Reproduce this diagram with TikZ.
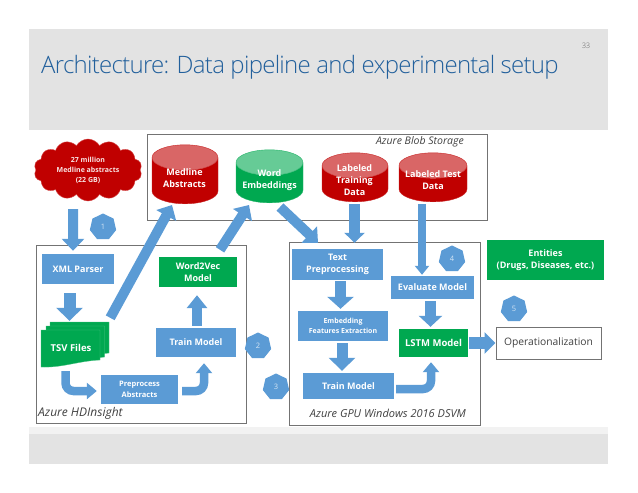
\documentclass[tikz,border=0pt]{standalone}
\usepackage{fontspec}
\setmainfont{Open Sans}
\newfontfamily\lightfont{Open Sans Light}[LetterSpace=-3]
\usetikzlibrary{arrows.meta, shapes.geometric, shapes.symbols}
\definecolor{slidegrey}{HTML}{E3E3E3}
\definecolor{titleblue}{HTML}{22609C}
\definecolor{boxblue}{HTML}{5B9BD5}
\definecolor{boxgreen}{HTML}{00A850}
\definecolor{boxred}{HTML}{C00000}
\definecolor{framegrey}{HTML}{737373}
\newcommand{\storegap}{\phantom{\rule{30pt}{4pt}}}
\tikzset{
  base/.style={inner sep=0pt, align=center, text=white, font=\bfseries\fontsize{9}{12}\selectfont},
  blue box/.style={base, rectangle, fill=boxblue, minimum width=#1},
  green box/.style={base, rectangle, fill=boxgreen, minimum width=#1},
  store/.style={inner sep=0pt, anchor=south, cylinder, shape border rotate=90, aspect=.85, minimum width=66,
    cylinder uses custom fill, cylinder body fill=#1, cylinder end fill=#1!60!white, draw=#1!85!white, line width=.4pt},
  badge/.style={regular polygon, regular polygon sides=7, minimum size=27, inner sep=0pt, fill=boxblue,
    text=white!75!boxblue, font=\fontsize{7.5}{9}\selectfont},
  frame box/.style={draw=framegrey, line width=1pt, fill=white},
  caption/.style={inner sep=0pt, text=black!75, font=\itshape\fontsize{#1}{13}\selectfont},
  fat/.style={draw=boxblue, line width=10pt, -{Triangle[length=12pt,width=22pt]}},
  fat thin/.style={draw=boxblue, line width=8.5pt, -{Triangle[length=10pt,width=16pt]}, rounded corners=8pt},
  sheet/.style={fill=boxgreen, draw=boxgreen!70!white, line width=.3pt}
}
\begin{document}
\begin{tikzpicture}[x=1pt, y=-1pt]
\useasboundingbox (0,0) rectangle (638,493);
% slide bands
\fill[slidegrey] (29,29) rectangle (608,130);
\fill[slidegrey] (29,427) rectangle (608,464);
\fill[black!5] (29,427) rectangle (608,434);
\node[anchor=base west, inner sep=0pt, text=titleblue, font=\lightfont\fontsize{24}{28}\selectfont] (title) at (41,73) {Architecture: Data pipeline and experimental setup};
\node[inner sep=0pt, text=black!65, font=\lightfont\fontsize{7.5}{9}\selectfont] (page) at (586,46) {33};
% group frames
\node[frame box, minimum width=340, minimum height=86] (blob) at (317,177) {};
\node[frame box, minimum width=210, minimum height=178] (hdi) at (141,334) {};
\node[frame box, minimum width=191, minimum height=183] (dsvm) at (384.5,333.5) {};
\node[caption=10.5, anchor=east] (blobcap) at (464,142) {Azure Blob Storage};
\node[caption=12, anchor=west] (hdicap) at (38,413) {Azure HDInsight};
\node[caption=11, anchor=east] (dsvmcap) at (466,413) {Azure GPU Windows 2016 DSVM};
% cloud and stores
\node[base, cloud, cloud puffs=14, cloud puff arc=120, aspect=1.9, minimum width=108, minimum height=62, fill=boxred, draw=boxred!70!white, line width=.4pt,
  font=\bfseries\fontsize{7}{10}\selectfont, text=white!90!boxred] (cloud) at (88,170) {27 million\\Medline abstracts\\(22 GB)};
\node[store=boxred, minimum height=59] (med) at (185,204) {\storegap};
\node[store=boxgreen, minimum height=53, minimum width=67] (emb) at (269.5,203) {\storegap};
\node[store=boxred, minimum height=49] (train) at (355,202) {\storegap};
\node[store=boxred, minimum height=49, minimum width=68] (test) at (433,202) {\storegap};
\node[base] (medtxt) at (184.5,178) {Medline\\Abstracts};
\node[base] (embtxt) at (269.5,180) {Word\\Embeddings};
\node[base] (traintxt) at (354.5,180) {Labeled\\Training\\Data};
\node[base] (testtxt) at (433,180) {Labeled Test\\Data};
% left column
\node[blue box=72, minimum height=30] (xml) at (78,269) {XML Parser};
\node[green box=78, minimum height=30] (w2v) at (198,272) {Word2Vec\\Model};
\path[sheet] (50,322) -- (109,322) -- (109,353) .. controls (100,354) and (95,355) .. (88,356) -- (50,356) -- cycle;
\path[sheet] (46,326) -- (104.5,326) -- (104.5,357) .. controls (96,358) and (90,359) .. (84,361) -- (46,361) -- cycle;
\path[sheet] (41,330) -- (100,330) -- (100,360) .. controls (78,361) and (62,368) .. (41,367) -- cycle;
\node[base, minimum width=68, minimum height=46, font=\bfseries\fontsize{9.5}{11}\selectfont] (tsv) at (71,348) {TSV Files};
\node[blue box=80, minimum height=29] (ltrain) at (196,342.5) {Train Model};
\node[blue box=77, minimum height=29, font=\bfseries\fontsize{7.5}{10.5}\selectfont] (pre) at (139.5,389.5) {Preprocess\\Abstracts};
% right column
\node[blue box=91, minimum height=31] (text) at (337.5,264.5) {Text\\Preprocessing};
\node[blue box=90, minimum height=30, font=\bfseries\fontsize{7}{10.5}\selectfont] (feat) at (343,326) {Embedding\\Features Extraction};
\node[blue box=91, minimum height=26] (rtrain) at (348.5,386) {Train Model};
\node[blue box=83, minimum height=23] (eval) at (432.5,287.5) {Evaluate Model};
\node[green box=69, minimum height=28, font=\bfseries\fontsize{9.5}{12}\selectfont] (lstm) at (433.5,343) {LSTM Model};
\node[green box=117, minimum height=40] (ent) at (545.5,260) {Entities\\(Drugs, Diseases, etc.)};
\node[frame box, minimum width=105, minimum height=32, inner sep=0pt, text=black!75, font=\fontsize{10.3}{12}\selectfont] (op) at (548.5,343) {Operationalization};
% numbered steps
\node[badge] (s1) at (103,227) {1};
\node[badge] (s2) at (258,346) {2};
\node[badge] (s3) at (276,387) {3};
\node[badge] (s4) at (452,259) {4};
\node[badge] (s5) at (514,309) {5};
% connectors
\draw[fat] ([xshift=-15,yshift=-8]cloud.south) -- ([xshift=-5,yshift=3]xml.north);
\draw[fat, line width=12pt, -{Triangle[length=13pt,width=26pt]}] ([xshift=-8.5,yshift=-9]xml.south) -- ([xshift=-1.5,yshift=4]tsv.north);
\draw[fat] ([xshift=5,yshift=7]tsv.north east) -- ([xshift=-13,yshift=-1]med.south);
\draw[fat] ([xshift=22,yshift=7]w2v.north) -- ([xshift=-20.5,yshift=-2]emb.south);
\draw[fat] ([xshift=10.5,yshift=-4]emb.south) -- ([xshift=-19.5,yshift=6]text.north);
\draw[fat, -{Triangle[length=13pt,width=20pt]}] ([xshift=1,yshift=2]ltrain.north) -- ([xshift=-1,yshift=-8]w2v.south);
\draw[fat thin] ([xshift=-5.5]tsv.south) |- ([xshift=-4,yshift=-1.5]pre.west);
\draw[fat thin] ([xshift=4,yshift=-1.5]pre.east) -| ([xshift=8,yshift=-6]ltrain.south);
\draw[fat, line width=11pt, -{Triangle[length=10pt,width=20pt]}] ([xshift=-.5,yshift=-2]train.south) -- ([xshift=17,yshift=6]text.north);
\draw[fat, line width=8pt, -{Triangle[length=9pt,width=14pt]}] ([xshift=-11,yshift=-2]test.south) -- ([xshift=-10.5,yshift=1]eval.north);
\draw[fat, line width=11pt, -{Triangle[length=12pt,width=26pt]}] ([xshift=3,yshift=-1]text.south) -- ([xshift=-2.5,yshift=2]feat.north);
\draw[fat, line width=11pt, -{Triangle[length=13pt,width=26pt]}] ([xshift=-1,yshift=-2]feat.south) -- ([xshift=-6.5,yshift=2]rtrain.north);
\draw[fat thin] ([xshift=2,yshift=-3]rtrain.east) -| ([xshift=-2.5,yshift=-5]lstm.south);
\draw[fat, line width=11pt, -{Triangle[length=11pt,width=23pt]}] ([xshift=-2,yshift=-2]eval.south) -- ([xshift=-3,yshift=2]lstm.north);
\draw[fat, line width=12pt, -{Triangle[length=11pt,width=21pt]}] ([xshift=1]lstm.east) -- (op.west);
\end{tikzpicture}
\end{document}
